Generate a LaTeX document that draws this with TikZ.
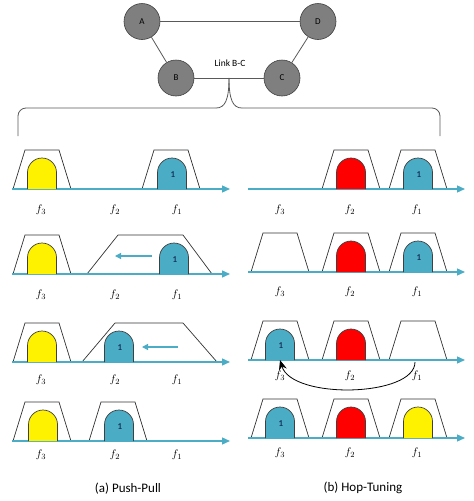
\documentclass[tikz,border=0pt]{standalone}
\usepackage{fontspec}
\setmainfont{Carlito}
\usetikzlibrary{arrows.meta}
\definecolor{aqua}{HTML}{4BACC6}
\definecolor{navy}{HTML}{17375E}
\definecolor{nodegray}{HTML}{7F7F7F}
\definecolor{edgegray}{HTML}{595959}

% trapezoid filter: bottom left, bottom right, top left, top right, axis y
\newcommand{\band}[5]{\draw[bandline] (#1,#5) -- (#3,#5-39) -- (#4,#5-39) -- (#2,#5) -- cycle;}
\newcommand{\fslot}[2]{\band{#1-29}{#1+29}{#1-17}{#1+17}{#2}}
% channel: name, colour, centre x, axis y
\newcommand{\chan}[4]{%
  \filldraw[chanline,fill=#2] (#3-14.5,#4) -- (#3-14.5,#4-16.5)
    .. controls (#3-14.5,#4-24.5) and (#3-8,#4-31) .. (#3,#4-31)
    .. controls (#3+8,#4-31) and (#3+14.5,#4-24.5) .. (#3+14.5,#4-16.5) -- (#3+14.5,#4);
  \coordinate (#1) at (#3,#4);}
\newcommand{\userone}[3]{\chan{#1}{aqua}{#2}{#3}\node[onetxt] (#1txt) at (#2+1,#3-14) {1};}
% frequency labels: prefix, y, x of f3, f2, f1
\newcommand{\freqs}[5]{%
  \node[flab] (#1f3) at (#3,#2) {$f_3$};
  \node[flab] (#1f2) at (#4,#2) {$f_2$};
  \node[flab] (#1f1) at (#5,#2) {$f_1$};}

\begin{document}
\begin{tikzpicture}[x=1pt,y=-1pt,
    router/.style={circle,draw=black!75,fill=nodegray,line width=0.6pt,minimum size=36pt,inner sep=0pt,font=\fontsize{9}{11}\selectfont},
    link/.style={draw=edgegray,line width=0.8pt},
    bandline/.style={draw=black!80,fill=white,line width=0.7pt},
    chanline/.style={draw=black!75,line width=0.7pt},
    axisline/.style={draw=aqua,line width=1.3pt,-{Triangle[length=8pt,width=7pt]}},
    movearrow/.style={draw=aqua,line width=1.2pt,-{Triangle[length=6pt,width=6pt]}},
    onetxt/.style={text=navy,font=\fontsize{9}{11}\selectfont\bfseries},
    flab/.style={font=\fontsize{11}{13}\selectfont},
    captxt/.style={font=\fontsize{13}{15}\selectfont}]
\useasboundingbox (0,0) rectangle (474,501);

% Topology
\node[router] (A) at (142,21.5) {A};
\node[router] (D) at (318,21.5) {D};
\node[router] (B) at (176,78) {B};
\node[router] (C) at (282,78) {C};
\draw[link] (A) -- (D);
\draw[link] (A) -- (B);
\draw[link] (D) -- (C);
\draw[link] (B) -- (C) coordinate[midway] (bc);
\node[font=\fontsize{9.5}{11}\selectfont] (linkbc) at (230,63) {Link B-C};

% Brace
\coordinate (braceL) at (18,136);
\coordinate (braceR) at (440,136);
\draw[edgegray,line width=0.8pt,rounded corners=8pt] (braceL) -- (18,108) -- (216,108);
\draw[edgegray,line width=0.8pt] (216,108) .. controls (225,108) and (229,100) .. (bc);
\draw[edgegray,line width=0.8pt] (bc) .. controls (229,100) and (233,108) .. (242,108);
\draw[edgegray,line width=0.8pt,rounded corners=8pt] (242,108) -- (440,108) -- (braceR);

% (a) Push-Pull
\fslot{42}{189} \fslot{171}{189}
\draw[axisline] (12,189) -- (230,189);
\chan{a1y}{yellow}{42}{189} \userone{a1u}{172}{189}
\freqs{a1}{210}{41}{115}{177}

\fslot{42}{274} \band{87}{212}{118}{183}{274}
\draw[axisline] (12,274) -- (230,274);
\chan{a2y}{yellow}{42}{274} \userone{a2u}{174}{274}
\coordinate (a2from) at (152,256); \coordinate (a2to) at (115,256);
\draw[movearrow] (a2from) -- (a2to);
\freqs{a2}{295}{41}{115}{177}

\fslot{42}{362} \band{82}{217}{115}{183}{362}
\draw[axisline] (12,362) -- (230,362);
\chan{a3y}{yellow}{42}{362} \userone{a3u}{119}{362}
\coordinate (a3from) at (178,347); \coordinate (a3to) at (142,347);
\draw[movearrow] (a3from) -- (a3to);
\freqs{a3}{380}{41}{115}{177}

\fslot{42}{441} \fslot{118}{441}
\draw[axisline] (12,441) -- (230,441);
\chan{a4y}{yellow}{43}{441} \userone{a4u}{119}{441}
\freqs{a4}{455}{41}{115}{177}
\node[captxt] (capa) at (128,489) {(a) Push-Pull};

% (b) Hop-Tuning
\fslot{351}{189} \fslot{418}{189}
\draw[axisline] (248,189) -- (465,189);
\chan{b1r}{red}{351}{189} \userone{b1u}{418}{189}
\freqs{b1}{210}{280}{350}{417}

\fslot{280}{272} \fslot{351}{272} \fslot{418}{272}
\draw[axisline] (248,272) -- (465,272);
\chan{b2r}{red}{351}{272} \userone{b2u}{418}{272}
\freqs{b2}{292}{280}{350}{417}

\fslot{280}{360} \fslot{351}{360} \fslot{418}{360}
\draw[axisline] (248,360) -- (465,360);
\userone{b3u}{280}{360} \chan{b3r}{red}{351}{360}
\freqs{b3}{376}{280}{350}{417}
\coordinate (hopfrom) at (415,362);
\draw[line width=0.8pt,-{Stealth[length=10pt,width=8pt]}] (hopfrom) .. controls (415,397) and (292,400) .. (b3u);

\fslot{280}{438} \fslot{351}{438} \fslot{418}{438}
\draw[axisline] (248,438) -- (465,438);
\userone{b4u}{280}{438} \chan{b4r}{red}{351}{438} \chan{b4y}{yellow}{418}{438}
\freqs{b4}{453}{280}{350}{417}
\node[captxt] (capb) at (363,488) {(b) Hop-Tuning};
\end{tikzpicture}
\end{document}
